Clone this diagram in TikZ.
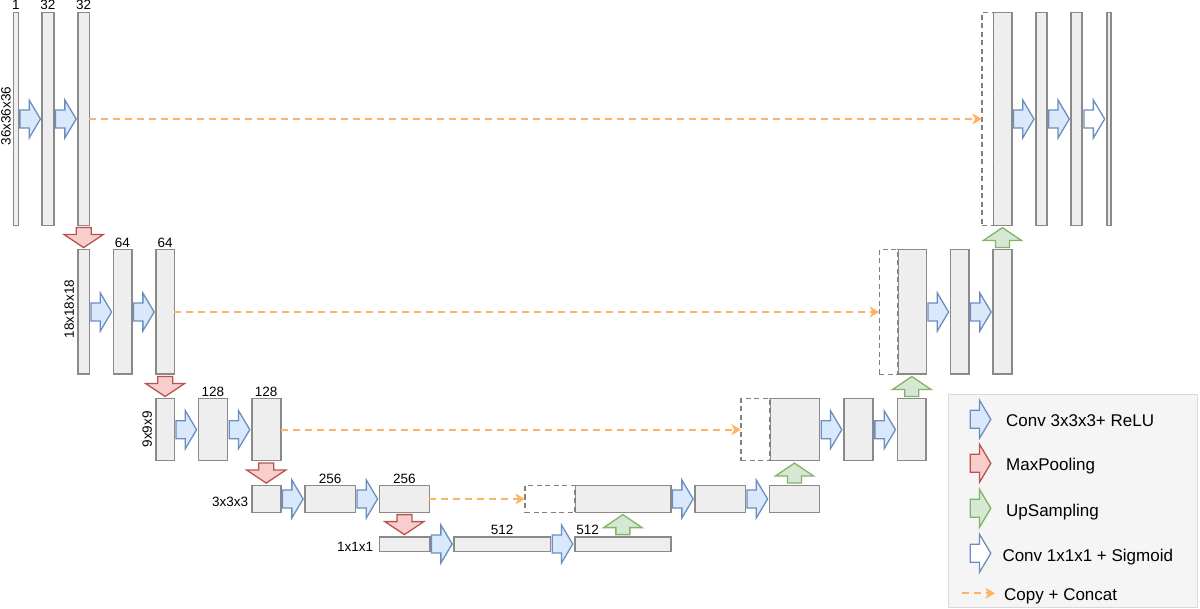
\documentclass[tikz,border=0pt]{standalone}
\usepackage{fontspec}
\setmainfont{Liberation Sans}
\usetikzlibrary{arrows.meta,calc}
\definecolor{boxfill}{HTML}{EEEEEE}
\definecolor{boxline}{HTML}{8A8A8A}
\definecolor{convfill}{HTML}{DAE8FC}
\definecolor{convline}{HTML}{6C8EBF}
\definecolor{poolfill}{HTML}{F8CECC}
\definecolor{poolline}{HTML}{B85450}
\definecolor{upfill}{HTML}{D5E8D4}
\definecolor{upline}{HTML}{82B366}
\definecolor{copyline}{HTML}{FFB366}
\definecolor{legfill}{HTML}{F5F5F5}
\definecolor{legline}{HTML}{DADADA}
\definecolor{dashline}{HTML}{808080}
\newcommand\layer[6][box]{\node[#1,minimum width={(#5-#3)*1pt},minimum height={(#6-#4)*1pt}] (#2) at ({(#3+#5)/2},{(#4+#6)/2}) {};}
\tikzset{
  box/.style={rectangle,draw=boxline,fill=boxfill,line width=1.6pt,inner sep=0pt,outer sep=0pt},
  dbox/.style={rectangle,draw=dashline,fill=white,line width=1.5pt,dash pattern=on 5pt off 3.5pt,inner sep=0pt,outer sep=0pt},
  legbox/.style={rectangle,draw=legline,fill=legfill,line width=1pt,inner sep=0pt,outer sep=0pt},
  convst/.style={draw=convline,fill=convfill,line width=1.3pt},
  sigst/.style={draw=convline,fill=white,line width=1.3pt},
  poolst/.style={draw=poolline,fill=poolfill,line width=1.3pt},
  upst/.style={draw=upline,fill=upfill,line width=1.3pt},
  copy/.style={draw=copyline,line width=1.7pt,dash pattern=on 7pt off 5pt,-{Stealth[length=9.5pt,width=11pt,inset=2.5pt,sep=0pt]}},
  numlbl/.style={font=\fontsize{13.5}{16}\selectfont,inner sep=0pt},
  dimlbl/.style={font=\fontsize{13.5}{16}\selectfont,inner sep=0pt},
  legtxt/.style={font=\fontsize{17}{20}\selectfont,inner sep=0pt,anchor=base west},
  pics/rar/.style={code={\draw[#1] (-10.3,-9) -- (-1,-9) -- (-1,-19) -- (10.3,0) -- (-1,19) -- (-1,9) -- (-10.3,9) -- cycle;}},
  pics/dar/.style={code={\draw[#1] (-7.5,-10) -- (7.5,-10) -- (7.5,-3) -- (19.5,-3) -- (0,10) -- (-19.5,-3) -- (-7.5,-3) -- cycle;}},
  pics/uar/.style={code={\draw[#1] (-7,10) -- (7,10) -- (7,3) -- (19.2,3) -- (0,-10) -- (-19.2,3) -- (-7,3) -- cycle;}},
}
\begin{document}
\begin{tikzpicture}[x=1pt,y=-1pt]
\useasboundingbox (0,0) rectangle (1200,609);
% legend background
\layer[legbox]{leg}{948.3}{395}{1197.5}{607.5}
% level 1
\layer{a1}{13.3}{12.5}{18.3}{225.5}
\layer{a2}{42}{12.5}{53.7}{225.5}
\layer{a3}{78}{12.5}{89.3}{225.5}
\layer{a4}{993.3}{12.5}{1011.7}{225.5}
\layer[dbox]{a4d}{982}{12.5}{993.3}{225.5}
\layer{a5}{1035.7}{12.5}{1047}{225.5}
\layer{a6}{1071}{12.5}{1082}{225.5}
\layer{a7}{1106.7}{12.5}{1110.7}{225.5}
% level 2
\layer{b1}{78}{249.7}{89.3}{374.3}
\layer{b2}{113.3}{249.7}{131.7}{374.3}
\layer{b3}{156}{249.7}{174.3}{374.3}
\layer{b4}{897.7}{249.7}{926.3}{374.3}
\layer[dbox]{b4d}{879.3}{249.7}{897.7}{374.3}
\layer{b5}{950.3}{249.7}{968.7}{374.3}
\layer{b6}{993}{249.7}{1011.7}{374.3}
% level 3
\layer{c1}{156}{398.7}{174.3}{460.7}
\layer{c2}{198.3}{398.7}{227.3}{460.7}
\layer{c3}{251.7}{398.7}{280.7}{460.7}
\layer{c4}{770}{398.7}{819.3}{460.7}
\layer[dbox]{c4d}{741}{398.7}{770}{460.7}
\layer{c5}{843.7}{398.7}{873}{460.7}
\layer{c6}{897.3}{398.7}{926}{460.7}
% level 4
\layer{d1}{251.7}{485.5}{280.7}{512.5}
\layer{d2}{305}{485.5}{355.3}{512.5}
\layer{d3}{379.3}{485.5}{429.3}{512.5}
\layer{d4}{575}{485.5}{670.7}{512.5}
\layer[dbox]{d4d}{525}{485.5}{575}{512.5}
\layer{d5}{695}{485.5}{745.3}{512.5}
\layer{d6}{769.3}{485.5}{819.3}{512.5}
% level 5
\layer{e1}{379.3}{536.7}{429.7}{551.3}
\layer{e2}{454}{536.7}{550.3}{551.3}
\layer{e3}{574.7}{536.7}{671}{551.3}
% conv arrows
\pic at ($(a1.east)!0.5!(a2.west)$) {rar=convst};
\pic at ($(a2.east)!0.5!(a3.west)$) {rar=convst};
\pic at ($(a4.east)!0.5!(a5.west)$) {rar=convst};
\pic at ($(a5.east)!0.5!(a6.west)$) {rar=convst};
\pic at ($(a6.east)!0.5!(a7.west)$) {rar=sigst};
\pic at ($(b1.east)!0.5!(b2.west)$) {rar=convst};
\pic at ($(b2.east)!0.5!(b3.west)$) {rar=convst};
\pic at ($(b4.east)!0.5!(b5.west)$) {rar=convst};
\pic at ($(b5.east)!0.5!(b6.west)$) {rar=convst};
\pic at ($(c1.east)!0.5!(c2.west)$) {rar=convst};
\pic at ($(c2.east)!0.5!(c3.west)$) {rar=convst};
\pic at ($(c4.east)!0.5!(c5.west)$) {rar=convst};
\pic at ($(c5.east)!0.5!(c6.west)$) {rar=convst};
\pic at ($(d1.east)!0.5!(d2.west)$) {rar=convst};
\pic at ($(d2.east)!0.5!(d3.west)$) {rar=convst};
\pic at ($(d4.east)!0.5!(d5.west)$) {rar=convst};
\pic at ($(d5.east)!0.5!(d6.west)$) {rar=convst};
\pic at ($(e1.east)!0.5!(e2.west)$) {rar=convst};
\pic at ($(e2.east)!0.5!(e3.west)$) {rar=convst};
% pooling arrows
\pic at ($(a3.south)!0.5!(b1.north)$) {dar=poolst};
\pic at ($(b3.south)!0.5!(c1.north)$) {dar=poolst};
\pic at ($(c3.south)!0.5!(d1.north)$) {dar=poolst};
\pic at ($(d3.south)!0.5!(e1.north)$) {dar=poolst};
% upsampling arrows
\pic at ($(e3.north)!0.5!(d4.south)$) {uar=upst};
\pic at ($(d6.north)!0.5!(c4.south)$) {uar=upst};
\pic at ($(c6.north)!0.5!(b4.south)$) {uar=upst};
\pic at ($(b6.north)!0.5!(a4.south)$) {uar=upst};
% copy + concat
\draw[copy] (a3.east) -- (a4d.west);
\draw[copy] (b3.east) -- (b4d.west);
\draw[copy] (c3.east) -- (c4d.west);
\draw[copy] (d3.east) -- (d4d.west);
% channel numbers
\node[numlbl] (la1) at ([yshift=7.5pt]a1.north) {1};
\node[numlbl] (la2) at ([yshift=7.5pt]a2.north) {32};
\node[numlbl] (la3) at ([yshift=7.5pt]a3.north) {32};
\node[numlbl] (lb2) at ([yshift=7pt]b2.north) {64};
\node[numlbl] (lb3) at ([yshift=7pt]b3.north) {64};
\node[numlbl] (lc2) at ([yshift=7pt]c2.north) {128};
\node[numlbl] (lc3) at ([yshift=7pt]c3.north) {128};
\node[numlbl] (ld2) at ([yshift=7pt]d2.north) {256};
\node[numlbl] (ld3) at ([yshift=7pt]d3.north) {256};
\node[numlbl] (le2) at ([yshift=6.8pt]e2.north) {512};
\node[numlbl] (le3) at ([xshift=13pt,yshift=6.8pt]e3.north west) {512};
% dimensions
\node[dimlbl,rotate=90] (dim1) at (6,116) {36x36x36};
\node[dimlbl,rotate=90] (dim2) at (69.3,309) {18x18x18};
\node[dimlbl,rotate=90] (dim3) at (147.3,429.3) {9x9x9};
\node[dimlbl,anchor=east] (dim4) at (248.3,501.5) {3x3x3};
\node[dimlbl,anchor=east] (dim5) at (373.3,546.5) {1x1x1};
% legend
\pic at (980.5,419.3) {rar=convst};
\pic at (980.5,463.3) {rar=poolst};
\pic at (980.5,508.3) {rar=upst};
\pic at (980.5,553.3) {rar=sigst};
\coordinate (cs) at (961.7,593.3);
\coordinate (ce) at (995,593.3);
\draw[copy] (cs) -- (ce);
\node[legtxt] (t1) at (1006,426.7) {Conv 3x3x3+ ReLU};
\node[legtxt] (t2) at (1006,470.7) {MaxPooling};
\node[legtxt] (t3) at (1006,516.7) {UpSampling};
\node[legtxt] (t4) at (1002.3,561.5) {Conv 1x1x1 + Sigmoid};
\node[legtxt] (t5) at (1004,600) {Copy + Concat};
\end{tikzpicture}
\end{document}
